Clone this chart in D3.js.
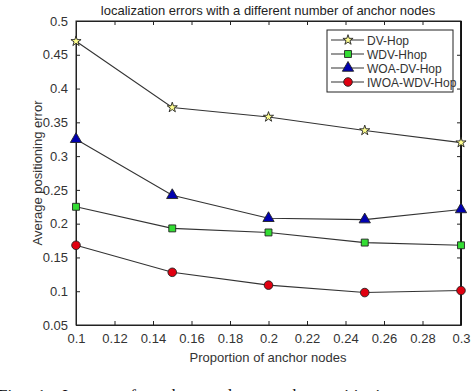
<!DOCTYPE html>
<html>
<head>
<meta charset="utf-8">
<script src="https://cdn.jsdelivr.net/npm/d3@7"></script>
<style>
  body { margin: 0; background: #fff; }
  svg { display: block; }
</style>
</head>
<body>
<svg id="chart" width="474" height="391"></svg>
<script>
// data
const proportions = [0.1, 0.15, 0.2, 0.25, 0.3];
const dvHop = [0.470, 0.372, 0.358, 0.338, 0.320];
const wdvHop = [0.225, 0.193, 0.187, 0.172, 0.168];
const woaDvHop = [0.325, 0.242, 0.208, 0.206, 0.221];
const iwoaWdvHop = [0.168, 0.128, 0.109, 0.098, 0.101];
const seriesNames = ["DV-Hop", "WDV-Hhop", "WOA-DV-Hop", "IWOA-WDV-Hop"];
const xTicks = [0.1, 0.12, 0.14, 0.16, 0.18, 0.2, 0.22, 0.24, 0.26, 0.28, 0.3];
const yTicks = [0.05, 0.1, 0.15, 0.2, 0.25, 0.3, 0.35, 0.4, 0.45, 0.5];

const series = [
  { name: seriesNames[0], values: dvHop, shape: d3.symbolStar, fill: "#ffff90", size: 32 },
  { name: seriesNames[1], values: wdvHop, shape: d3.symbolSquare, fill: "#33dd33", size: 48 },
  { name: seriesNames[2], values: woaDvHop, shape: d3.symbolTriangle, fill: "#0000b0", size: 55 },
  { name: seriesNames[3], values: iwoaWdvHop, shape: d3.symbolCircle, fill: "#e00010", size: 58 }
];

const svg = d3.select("#chart");
const m = { left: 76, right: 13, top: 21, bottom: 66 };
const W = 474, H = 391;

const x = d3.scaleLinear().domain([0.1, 0.3]).range([m.left, W - m.right]);
const y = d3.scaleLinear().domain([0.05, 0.5]).range([H - m.bottom, m.top]);

const font = "'Liberation Sans', Arial, sans-serif";
const textCol = "#333";

// box
svg.append("rect")
  .attr("x", x(0.1)).attr("y", y(0.5))
  .attr("width", x(0.3) - x(0.1)).attr("height", y(0.05) - y(0.5))
  .attr("fill", "none").attr("stroke", "#222").attr("stroke-width", 1);

// axes with inward ticks
const fmt = d => String(+d.toFixed(2));
svg.append("g").attr("transform", `translate(0,${y(0.05)})`)
  .call(d3.axisBottom(x).tickValues(xTicks).tickSizeInner(-4).tickSizeOuter(0).tickPadding(9).tickFormat(fmt));
svg.append("g").attr("transform", `translate(${x(0.1)},0)`)
  .call(d3.axisLeft(y).tickValues(yTicks).tickSizeInner(-4).tickSizeOuter(0).tickPadding(8).tickFormat(fmt));
svg.append("g").attr("transform", `translate(0,${y(0.5)})`)
  .call(d3.axisTop(x).tickValues(xTicks).tickSizeInner(-4).tickSizeOuter(0).tickFormat(""));
svg.append("g").attr("transform", `translate(${x(0.3)},0)`)
  .call(d3.axisRight(y).tickValues(yTicks).tickSizeInner(-4).tickSizeOuter(0).tickFormat(""));

svg.selectAll(".domain").attr("stroke", "#222");
svg.selectAll(".tick line").attr("stroke", "#222");
svg.selectAll(".tick text").attr("font-family", font).attr("font-size", 13).attr("fill", textCol);

// right edge looks heavier in the picture
svg.append("line")
  .attr("x1", x(0.3)).attr("x2", x(0.3)).attr("y1", y(0.5)).attr("y2", y(0.05))
  .attr("stroke", "#111").attr("stroke-width", 1.8);

// lines and markers
const line = d3.line().x((d, i) => x(proportions[i])).y(d => y(d));
series.forEach(s => {
  svg.append("path").datum(s.values)
    .attr("d", line).attr("fill", "none").attr("stroke", "#333").attr("stroke-width", 1.1);
  svg.selectAll(null).data(s.values).enter().append("path")
    .attr("transform", (d, i) => `translate(${x(proportions[i])},${y(d)})`)
    .attr("d", d3.symbol().type(s.shape).size(s.size))
    .attr("fill", s.fill).attr("stroke", "#222").attr("stroke-width", 0.9);
});

// title and labels
svg.append("text").attr("x", 268).attr("y", 15).attr("text-anchor", "middle")
  .attr("font-family", font).attr("font-size", 13).attr("fill", "#222")
  .text("localization errors with a different number of anchor nodes");
svg.append("text").attr("x", 268).attr("y", 362).attr("text-anchor", "middle")
  .attr("font-family", font).attr("font-size", 13).attr("fill", textCol)
  .text("Proportion of anchor nodes");
svg.append("text").attr("transform", `translate(42,${(y(0.05) + y(0.5)) / 2}) rotate(-90)`)
  .attr("text-anchor", "middle")
  .attr("font-family", font).attr("font-size", 13).attr("fill", textCol)
  .text("Average positioning error");

// legend
const lg = svg.append("g").attr("transform", "translate(327,30)");
lg.append("rect").attr("width", 126).attr("height", 62)
  .attr("fill", "#fff").attr("stroke", "#222").attr("stroke-width", 1);
series.forEach((s, i) => {
  const yy = 10 + i * 14;
  lg.append("line").attr("x1", 4).attr("x2", 37).attr("y1", yy).attr("y2", yy)
    .attr("stroke", "#333").attr("stroke-width", 1.1);
  lg.append("path").attr("transform", `translate(21,${yy})`)
    .attr("d", d3.symbol().type(s.shape).size(s.size))
    .attr("fill", s.fill).attr("stroke", "#222").attr("stroke-width", 0.9);
  lg.append("text").attr("x", 40).attr("y", yy + 4.5)
    .attr("font-family", font).attr("font-size", 12).attr("fill", textCol)
    .text(s.name);
});

// figure caption, cut off by the bottom edge as in the picture
svg.append("text").attr("x", -2).attr("y", 401)
  .attr("font-family", "'Liberation Serif', 'Times New Roman', serif").attr("font-size", 17).attr("fill", "#111")
  .attr("word-spacing", 8)
  .text("Fig. 1.  Impact of anchor nodes on the positioning accuracy");
</script>
</body>
</html>
